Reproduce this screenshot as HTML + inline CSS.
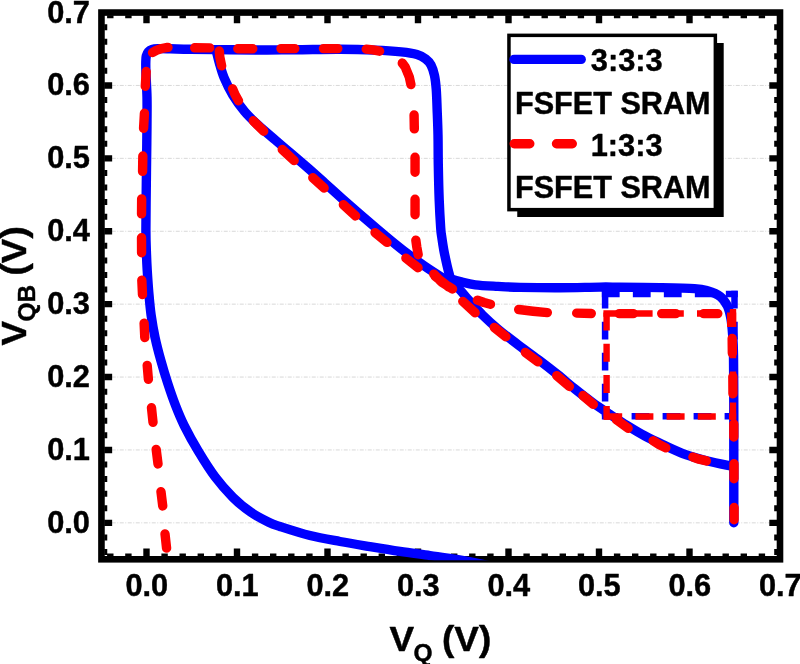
<!DOCTYPE html>
<html lang="en">
<head>
<meta charset="utf-8">
<title>FSFET SRAM butterfly curves</title>
<style>
html,body{margin:0;padding:0;background:#fff;}
body{width:800px;height:664px;overflow:hidden;}
svg{display:block;}
</style>
</head>
<body>
<svg width="800" height="664" viewBox="0 0 800 664">
<rect width="800" height="664" fill="#fff"/>
<g stroke="#d8d8d8" stroke-width="1" stroke-dasharray="4 1.5 1 1.5" fill="none">
<path d="M111.75 522.85H769.7"/>
<path d="M111.75 449.95H769.7"/>
<path d="M111.75 377.05H769.7"/>
<path d="M111.75 304.15H769.7"/>
<path d="M111.75 231.25H769.7"/>
<path d="M111.75 158.35H769.7"/>
<path d="M111.75 85.45H769.7"/>
</g>
<rect x="101.45" y="12.55" width="678.55" height="546.75" fill="none" stroke="#000" stroke-width="6.6"/>
<path d="M107.1 553.5h6.4v3h-6.4zM107.1 15.35h6.4v3h-6.4zM125.2 553.5h6.4v3h-6.4zM125.2 15.35h6.4v3h-6.4zM143.3 548.6h6.4v7.9h-6.4zM143.3 15.35h6.4v7.9h-6.4zM161.4 553.5h6.4v3h-6.4zM161.4 15.35h6.4v3h-6.4zM179.5 553.5h6.4v3h-6.4zM179.5 15.35h6.4v3h-6.4zM197.6 553.5h6.4v3h-6.4zM197.6 15.35h6.4v3h-6.4zM215.7 553.5h6.4v3h-6.4zM215.7 15.35h6.4v3h-6.4zM233.8 548.6h6.4v7.9h-6.4zM233.8 15.35h6.4v7.9h-6.4zM251.9 553.5h6.4v3h-6.4zM251.9 15.35h6.4v3h-6.4zM270 553.5h6.4v3h-6.4zM270 15.35h6.4v3h-6.4zM288.1 553.5h6.4v3h-6.4zM288.1 15.35h6.4v3h-6.4zM306.2 553.5h6.4v3h-6.4zM306.2 15.35h6.4v3h-6.4zM324.3 548.6h6.4v7.9h-6.4zM324.3 15.35h6.4v7.9h-6.4zM342.4 553.5h6.4v3h-6.4zM342.4 15.35h6.4v3h-6.4zM360.5 553.5h6.4v3h-6.4zM360.5 15.35h6.4v3h-6.4zM378.6 553.5h6.4v3h-6.4zM378.6 15.35h6.4v3h-6.4zM396.7 553.5h6.4v3h-6.4zM396.7 15.35h6.4v3h-6.4zM414.8 548.6h6.4v7.9h-6.4zM414.8 15.35h6.4v7.9h-6.4zM432.9 553.5h6.4v3h-6.4zM432.9 15.35h6.4v3h-6.4zM451 553.5h6.4v3h-6.4zM451 15.35h6.4v3h-6.4zM469.1 553.5h6.4v3h-6.4zM469.1 15.35h6.4v3h-6.4zM487.2 553.5h6.4v3h-6.4zM487.2 15.35h6.4v3h-6.4zM505.3 548.6h6.4v7.9h-6.4zM505.3 15.35h6.4v7.9h-6.4zM523.4 553.5h6.4v3h-6.4zM523.4 15.35h6.4v3h-6.4zM541.5 553.5h6.4v3h-6.4zM541.5 15.35h6.4v3h-6.4zM559.6 553.5h6.4v3h-6.4zM559.6 15.35h6.4v3h-6.4zM577.7 553.5h6.4v3h-6.4zM577.7 15.35h6.4v3h-6.4zM595.8 548.6h6.4v7.9h-6.4zM595.8 15.35h6.4v7.9h-6.4zM613.9 553.5h6.4v3h-6.4zM613.9 15.35h6.4v3h-6.4zM632 553.5h6.4v3h-6.4zM632 15.35h6.4v3h-6.4zM650.1 553.5h6.4v3h-6.4zM650.1 15.35h6.4v3h-6.4zM668.2 553.5h6.4v3h-6.4zM668.2 15.35h6.4v3h-6.4zM686.3 548.6h6.4v7.9h-6.4zM686.3 15.35h6.4v7.9h-6.4zM704.4 553.5h6.4v3h-6.4zM704.4 15.35h6.4v3h-6.4zM722.5 553.5h6.4v3h-6.4zM722.5 15.35h6.4v3h-6.4zM740.6 553.5h6.4v3h-6.4zM740.6 15.35h6.4v3h-6.4zM758.7 553.5h6.4v3h-6.4zM758.7 15.35h6.4v3h-6.4zM104.25 549.01h3v6h-3zM774.2 549.01h3v6h-3zM104.25 534.43h3v6h-3zM774.2 534.43h3v6h-3zM104.25 519.65h7.9v6.4h-7.9zM769.3 519.65h7.9v6.4h-7.9zM104.25 505.27h3v6h-3zM774.2 505.27h3v6h-3zM104.25 490.69h3v6h-3zM774.2 490.69h3v6h-3zM104.25 476.11h3v6h-3zM774.2 476.11h3v6h-3zM104.25 461.53h3v6h-3zM774.2 461.53h3v6h-3zM104.25 446.75h7.9v6.4h-7.9zM769.3 446.75h7.9v6.4h-7.9zM104.25 432.37h3v6h-3zM774.2 432.37h3v6h-3zM104.25 417.79h3v6h-3zM774.2 417.79h3v6h-3zM104.25 403.21h3v6h-3zM774.2 403.21h3v6h-3zM104.25 388.63h3v6h-3zM774.2 388.63h3v6h-3zM104.25 373.85h7.9v6.4h-7.9zM769.3 373.85h7.9v6.4h-7.9zM104.25 359.47h3v6h-3zM774.2 359.47h3v6h-3zM104.25 344.89h3v6h-3zM774.2 344.89h3v6h-3zM104.25 330.31h3v6h-3zM774.2 330.31h3v6h-3zM104.25 315.73h3v6h-3zM774.2 315.73h3v6h-3zM104.25 300.95h7.9v6.4h-7.9zM769.3 300.95h7.9v6.4h-7.9zM104.25 286.57h3v6h-3zM774.2 286.57h3v6h-3zM104.25 271.99h3v6h-3zM774.2 271.99h3v6h-3zM104.25 257.41h3v6h-3zM774.2 257.41h3v6h-3zM104.25 242.83h3v6h-3zM774.2 242.83h3v6h-3zM104.25 228.05h7.9v6.4h-7.9zM769.3 228.05h7.9v6.4h-7.9zM104.25 213.67h3v6h-3zM774.2 213.67h3v6h-3zM104.25 199.09h3v6h-3zM774.2 199.09h3v6h-3zM104.25 184.51h3v6h-3zM774.2 184.51h3v6h-3zM104.25 169.93h3v6h-3zM774.2 169.93h3v6h-3zM104.25 155.15h7.9v6.4h-7.9zM769.3 155.15h7.9v6.4h-7.9zM104.25 140.77h3v6h-3zM774.2 140.77h3v6h-3zM104.25 126.19h3v6h-3zM774.2 126.19h3v6h-3zM104.25 111.61h3v6h-3zM774.2 111.61h3v6h-3zM104.25 97.03h3v6h-3zM774.2 97.03h3v6h-3zM104.25 82.25h7.9v6.4h-7.9zM769.3 82.25h7.9v6.4h-7.9zM104.25 67.87h3v6h-3zM774.2 67.87h3v6h-3zM104.25 53.29h3v6h-3zM774.2 53.29h3v6h-3zM104.25 38.71h3v6h-3zM774.2 38.71h3v6h-3zM104.25 24.13h3v6h-3zM774.2 24.13h3v6h-3z" fill="#000"/>
<defs><clipPath id="pc"><rect x="101.45" y="12.55" width="678.55" height="547.75"/></clipPath></defs>
<g clip-path="url(#pc)" fill="none">
<path d="M733.8 522.7C733.8 515.58 733.8 493.78 733.8 480C733.8 466.22 733.8 451.67 733.8 440C733.8 428.33 733.85 424.17 733.8 410C733.75 395.83 733.7 367.58 733.5 355C733.3 342.42 733.03 340.58 732.6 334.5C732.17 328.42 731.77 323.25 730.9 318.5C730.03 313.75 729.18 309.68 727.4 306C725.62 302.32 723.52 298.93 720.2 296.4C716.88 293.87 711.78 292.1 707.5 290.8C703.22 289.5 702.42 289.13 694.5 288.6C686.58 288.07 672.42 287.83 660 287.6C647.58 287.37 630 287.28 620 287.2C610 287.12 610 287 600 287.1C590 287.2 573.33 287.75 560 287.8C546.67 287.85 530.35 287.63 520 287.4C509.65 287.17 505.35 286.83 497.9 286.4C490.45 285.97 481.58 285.6 475.3 284.8C469.02 284 463.88 282.47 460.2 281.6C456.52 280.73 454.85 280.27 453.2 279.6C451.55 278.93 450.97 278.53 450.3 277.6C449.63 276.67 449.75 276.07 449.2 274C448.65 271.93 447.9 269.18 447 265.2C446.1 261.22 444.7 254.97 443.8 250.1C442.9 245.23 442.12 239.68 441.6 236C441.08 232.32 441.1 234 440.7 228C440.3 222 439.6 210.5 439.2 200C438.8 189.5 438.5 175.83 438.3 165C438.1 154.17 438.2 144.38 438 135C437.8 125.62 437.39 116.33 437.1 108.75C436.81 101.17 436.68 95.04 436.25 89.5C435.82 83.96 435.38 79.58 434.5 75.5C433.62 71.42 432.46 67.77 431 65C429.54 62.23 428.08 60.65 425.75 58.9C423.42 57.15 421.08 55.67 417 54.5C412.92 53.33 408.25 52.63 401.25 51.9C394.25 51.17 385.21 50.53 375 50.1C364.79 49.67 352.5 49.37 340 49.3C327.5 49.23 312.17 49.58 300 49.7C287.83 49.82 278.67 49.98 267 50C255.33 50.02 242.83 49.92 230 49.8C217.17 49.68 200 49.47 190 49.3C180 49.13 175.33 48.9 170 48.8C164.67 48.7 161 48.58 158 48.7C155 48.82 153.62 48.98 152 49.5C150.38 50.02 149.25 50.72 148.3 51.8C147.35 52.88 146.72 54.3 146.3 56C145.88 57.7 145.87 59.33 145.8 62C145.73 64.67 145.7 66.17 145.9 72C146.1 77.83 146.82 89 147 97C147.18 105 147.03 112.33 147 120C146.97 127.67 146.92 132.17 146.8 143C146.68 153.83 146.45 170.5 146.3 185C146.15 199.5 145.87 218.33 145.9 230C145.93 241.67 146.28 248.33 146.5 255C146.72 261.67 146.82 263.73 147.2 270C147.58 276.27 148.15 285.1 148.8 292.6C149.45 300.1 150.05 307.48 151.1 315C152.15 322.52 153.48 330.15 155.1 337.7C156.72 345.25 158.72 352.77 160.8 360.3C162.88 367.83 165.15 375.38 167.6 382.9C170.05 390.42 172.73 398.28 175.5 405.4C178.27 412.52 180.4 417.97 184.2 425.6C188 433.23 193.17 442.67 198.3 451.2C203.43 459.73 209.23 469.12 215 476.8C220.77 484.48 226.93 491.4 232.9 497.3C238.87 503.2 244.83 508.05 250.8 512.2C256.77 516.35 263.83 519.82 268.7 522.2C273.57 524.58 273.12 524.28 280 526.5C286.88 528.72 300 533 310 535.5C320 538 330 539.65 340 541.5C350 543.35 360 544.95 370 546.6C380 548.25 390 549.9 400 551.4C410 552.9 420.33 554.22 430 555.6C439.67 556.98 449 558.2 458 559.7C467 561.2 475.33 562.8 484 564.6C492.67 566.4 505.67 569.52 510 570.5" stroke="#0000ff" stroke-width="9.4" stroke-linecap="round" stroke-linejoin="round"/>
<path d="M216 49.5C216.13 50.08 216.27 50.83 216.8 53C217.33 55.17 218 58.42 219.2 62.5C220.4 66.58 221.73 72.08 224 77.5C226.27 82.92 229.37 89.33 232.8 95C236.23 100.67 240.4 106.5 244.6 111.5C248.8 116.5 252.93 120.28 258 125C263.07 129.72 269.67 135.2 275 139.8C280.33 144.4 284.58 147.97 290 152.6C295.42 157.23 301.67 162.5 307.5 167.6C313.33 172.7 319.17 177.98 325 183.2C330.83 188.42 336.67 193.73 342.5 198.9C348.33 204.07 354.17 209.15 360 214.2C365.83 219.25 371.67 224.27 377.5 229.2C383.33 234.13 389.58 239.4 395 243.8C400.42 248.2 405 251.83 410 255.6C415 259.37 420 262.97 425 266.4C430 269.83 434.83 272.93 440 276.2C445.17 279.47 451.17 281.95 456 286C460.83 290.05 464.58 295.67 469 300.5C473.42 305.33 477.58 310.17 482.5 315C487.42 319.83 492.42 324.42 498.5 329.5C504.58 334.58 512.17 340.33 519 345.5C525.83 350.67 533.08 355.67 539.5 360.5C545.92 365.33 551.58 369.75 557.5 374.5C563.42 379.25 569.17 384.33 575 389C580.83 393.67 586.67 398.27 592.5 402.5C598.33 406.73 604.17 410.52 610 414.4C615.83 418.27 621.67 422.15 627.5 425.75C633.33 429.35 639.15 432.88 645 436C650.85 439.12 655.93 441.45 662.6 444.5C669.27 447.55 677.48 451.55 685 454.3C692.52 457.05 700.03 459.05 707.7 461C715.37 462.95 727.12 465.17 731 466" stroke="#0000ff" stroke-width="9.4" stroke-linecap="butt" stroke-linejoin="round"/>
<g stroke="#0000ff" stroke-width="6.5" stroke-dasharray="17.8 13.2">
<path d="M601.85 294H737.75" stroke-dashoffset="0"/>
<path d="M605.1 290.75V416.3"/>
<path d="M601.85 416.3H737.75" stroke-dashoffset="1.25"/>
<path d="M734.5 290.75V416.3" stroke-dashoffset="0"/>
</g>
<g stroke="#ff0000" stroke-width="6.4" stroke-dasharray="18 13.2">
<path d="M603.4 313.5H727"/>
<path d="M606.6 312.5V419.7"/>
<path d="M604.2 416.5H736.2"/>
<path d="M733 309V419.7"/>
</g>
<path d="M727 312.5H736.2V327H727z" fill="#ff0000"/>
<g stroke="#ff0000" stroke-width="9.4" stroke-linecap="round" stroke-linejoin="round">
<path d="M734.1 519.8L734.1 507.5M734 478.7L734 463.7M733.8 437L733.8 424M732.96 393.8L732.84 376.7M732.34 353.3L732.16 338.45M717.8 313.6L703.7 313.6M675.8 313.6L661.7 313.6M633.3 313.6L619.2 313.6M591.3 313.48L576.7 313.12M547.32 312.56L533 311.2L518.67 309.54M490.46 304.2L484 302.5L477.43 300.17M452.53 288.99L441.5 282L433.79 274.15M418.17 254.67L416.8 247L415.85 240.25M415.05 214.7L415.05 199.2M415.05 172.2L415.05 157.3M414.32 128.9L414.08 114.9M410.92 84.6L409.3 77L405.2 67L402.3 63.08M379.59 51.19L373 49.9L366.27 49.13M337.8 48.6L323.45 48.6M294.8 48.6L280.95 48.6M252.8 48.75L237.8 48.75M209.7 47.88L194.7 47.82M167.97 47.36L167.5 47.4L161.5 48.5L156.25 50.4L152.55 52.57M146.21 71.49L145.29 86.21M144.43 113.19L143.57 128.31M142.82 156L142.58 171.4M141.66 198.9L141.54 213.9M141.52 237.7L141.58 252.7M141.82 280.29L142.48 294.61M144.12 323.19L144.78 337.51M147.2 365.38L148.4 379.32M151.49 407.67L153.01 422.23M156.19 449.46L158.01 463.94M160.97 491.66L162.73 505.94M165.02 533.97L166.58 548.13M219.29 50.98L219.8 57L221.65 65.9M232.6 88.74L235 94.5L238.49 100.7M253.32 120.82L263.68 131.18M282.24 149.5L294.16 160.6M312.78 177.76L324.12 188.04M343.37 204.77L355.63 215.93M375.03 232.59L386.97 242.41M405.9 258.1L418.1 267.7M435.21 276.38L448.79 286.92M462.76 301.38L475.14 312.72M494.29 327.51L505.91 336.69M525.36 352.42L537.84 361.78M556.77 375.66L569.43 386.54M582.98 395.55L593.32 404.35M616.4 419.76L628.1 428.24M653.17 440.81L659 444.5L665.8 447.9M692.93 457.06L699 459.2L706.42 460.93"/>
</g>
</g>
<g font-family="'Liberation Sans', Arial, Helvetica, sans-serif" font-weight="700" fill="#000" stroke="#000" stroke-width="0.45" stroke-linejoin="round">
<g font-size="30.8" text-anchor="end">
<text x="90" y="532.8">0.0</text>
<text x="90" y="459.9">0.1</text>
<text x="90" y="387">0.2</text>
<text x="90" y="314.1">0.3</text>
<text x="90" y="241.2">0.4</text>
<text x="90" y="168.3">0.5</text>
<text x="90" y="95.4">0.6</text>
<text x="90" y="22.5">0.7</text>
</g>
<g font-size="30.8" text-anchor="middle">
<text x="146.8" y="596.3">0.0</text>
<text x="237.3" y="596.3">0.1</text>
<text x="327.8" y="596.3">0.2</text>
<text x="418.3" y="596.3">0.3</text>
<text x="508.8" y="596.3">0.4</text>
<text x="599.3" y="596.3">0.5</text>
<text x="689.8" y="596.3">0.6</text>
<text x="780.3" y="596.3">0.7</text>
</g>
<text transform="translate(389.6 651.2) scale(1.055 1)" font-size="35">V<tspan font-size="23.2" dy="9.3" dx="-0.6">Q</tspan><tspan dy="-9.3" dx="-0.8"> (V)</tspan></text>
<text transform="translate(26 345.6) rotate(-90) scale(1.055 1)" font-size="35">V<tspan font-size="23.2" dy="9.3" dx="-0.6">QB</tspan><tspan dy="-9.3" dx="-0.8"> (V)</tspan></text>
<path d="M717 43.1H723.7V216.9H517.25V211H717z" fill="#000" stroke="none"/>
<rect x="508.95" y="35.35" width="206.4" height="174.3" fill="#fff" stroke="#000" stroke-width="3.5" stroke-linejoin="miter"/>
<path d="M514 59.4H581.2" stroke="#0000ff" stroke-width="9.4" stroke-linecap="round"/>
<path d="M514.2 143.7H529.8M556.5 143.7H572.3" stroke="#ff0000" stroke-width="9.4" stroke-linecap="round"/>
<g font-size="30.8">
<text x="590.8" y="71.1">3:3:3</text>
<text x="515" y="113.6" textLength="195.6" lengthAdjust="spacingAndGlyphs">FSFET SRAM</text>
<text x="590.7" y="155.5">1:3:3</text>
<text x="515" y="198.3" textLength="195.6" lengthAdjust="spacingAndGlyphs">FSFET SRAM</text>
</g>
</g>
</svg>
</body>
</html>
